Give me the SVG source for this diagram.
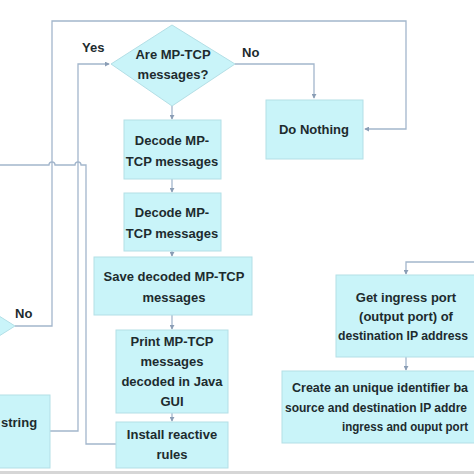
<svg xmlns="http://www.w3.org/2000/svg" width="474" height="474" viewBox="0 0 474 474">
<style>
.box{fill:#c9f4f9;stroke:#b3dfe6;stroke-width:1}
.ln{fill:none;stroke:#a3b6cc;stroke-width:1.3}
text{font-family:"Liberation Sans",Arial,sans-serif;font-weight:bold;font-size:13px;fill:#1d2b2e}
.c{text-anchor:middle}
.s{font-size:12.4px}
</style>
<defs>
<marker id="ah" viewBox="0 0 6 6" refX="5" refY="3" markerWidth="5" markerHeight="5" orient="auto" markerUnits="userSpaceOnUse">
<path d="M0,0 L6,3 L0,6 z" fill="#8a9db5"/>
</marker>
</defs>
<rect width="474" height="474" fill="#ffffff"/>
<g id="connectors">
<path class="ln" d="M15,326 H52 V21 H406 V129 H365" marker-end="url(#ah)"/>
<path class="ln" d="M50,431 H78 V64 H109" marker-end="url(#ah)"/>
<path class="ln" d="M235,64 H314 V98" marker-end="url(#ah)"/>
<path class="ln" d="M172,106 V119" marker-end="url(#ah)"/>
<path class="ln" d="M172,179 V192" marker-end="url(#ah)"/>
<path class="ln" d="M172,251 V256" marker-end="url(#ah)"/>
<path class="ln" d="M172,315 V329" marker-end="url(#ah)"/>
<path class="ln" d="M172,413 V421" marker-end="url(#ah)"/>
<path class="ln" d="M116,444 H86 V165 H81 A3,3 0 0 0 75,165 H55 A3,3 0 0 0 49,165 H0"/>
<path class="ln" d="M474,262 H406 V274" marker-end="url(#ah)"/>
<path class="ln" d="M406,357 V370" marker-end="url(#ah)"/>
</g>
<g id="label-yes"><text x="82" y="52">Yes</text></g>
<g id="label-no1"><text x="242" y="57">No</text></g>
<g id="label-no2"><text x="15" y="318">No</text></g>
<g id="decision-mptcp">
<polygon class="box" points="172,25 235,64 172,106 111,64"/>
<text class="c" x="173" y="59">Are  MP-TCP</text>
<text class="c" x="173" y="79">messages?</text>
</g>
<g id="decision-left">
<polygon class="box" points="-20,304 15,326 -20,348"/>
</g>
<g id="do-nothing">
<rect class="box" x="266" y="100" width="97" height="59"/>
<text class="c" x="314" y="134">Do Nothing</text>
</g>
<g id="decode1">
<rect class="box" x="124" y="120" width="97" height="59"/>
<text class="c" x="172" y="145">Decode  MP-</text>
<text class="c" x="172" y="166">TCP messages</text>
</g>
<g id="decode2">
<rect class="box" x="124" y="193" width="97" height="58"/>
<text class="c" x="172" y="217">Decode  MP-</text>
<text class="c" x="172" y="238">TCP messages</text>
</g>
<g id="save">
<rect class="box" x="94" y="257" width="158" height="58"/>
<text class="c" x="174" y="281">Save  decoded  MP-TCP</text>
<text class="c" x="174" y="302">messages</text>
</g>
<g id="print">
<rect class="box" x="116" y="330" width="112" height="83"/>
<text class="c" x="172" y="346">Print MP-TCP</text>
<text class="c" x="172" y="366">messages</text>
<text class="c" x="172" y="386">decoded in Java</text>
<text class="c" x="172" y="406">GUI</text>
</g>
<g id="install">
<rect class="box" x="116" y="422" width="112" height="46"/>
<text class="c" x="172" y="439">Install reactive</text>
<text class="c" x="172" y="459">rules</text>
</g>
<g id="string-box">
<rect class="box" x="-10" y="395" width="60" height="73"/>
<text x="1" y="427">string</text>
</g>
<g id="get-ingress">
<rect class="box" x="336" y="275" width="145" height="82"/>
<text class="c" x="406" y="302">Get ingress port</text>
<text class="c" x="406" y="321">(output port) of</text>
<text x="338" y="340" textLength="130" lengthAdjust="spacingAndGlyphs">destination IP address</text>
</g>
<g id="create-id">
<rect class="box" x="282" y="371" width="200" height="72"/>
<text class="s" x="292" y="392" textLength="176" lengthAdjust="spacingAndGlyphs">Create an unique identifier ba</text>
<text class="s" x="285" y="412" textLength="182" lengthAdjust="spacingAndGlyphs">source and destination  IP addre</text>
<text class="s" x="342" y="431" textLength="126" lengthAdjust="spacingAndGlyphs">ingress and ouput port</text>
</g>
<rect x="0" y="471" width="474" height="3" fill="#d6d6d6"/>
</svg>
